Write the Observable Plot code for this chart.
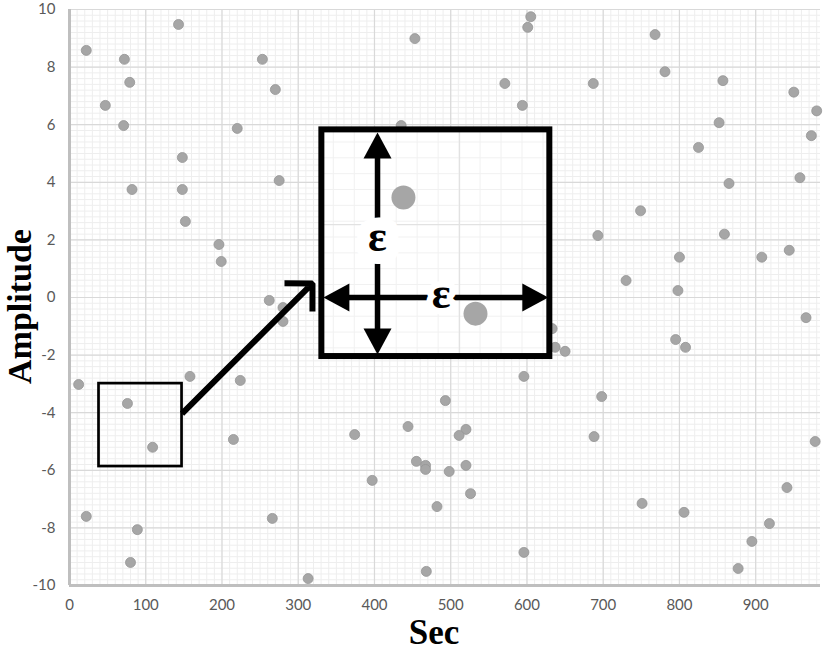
<!DOCTYPE html>
<html>
<head>
<meta charset="utf-8">
<script src="https://cdn.jsdelivr.net/npm/d3@7"></script>
<script src="https://cdn.jsdelivr.net/npm/@observablehq/plot@0.6"></script>
<style>
  html, body { margin: 0; padding: 0; background: #fff; }
  #chart { width: 825px; height: 651px; }
</style>
</head>
<body>
<div id="chart"></div>
<script>
// ---- data ----
const secs = [22, 72, 79, 47, 71, 143, 148, 148, 152, 82, 196, 199, 220, 253, 270, 275, 262, 280, 280,
  453, 605, 601, 571, 594, 687, 435, 693, 730, 633,
  768, 781, 857, 950, 980, 852, 973, 825, 865, 958, 749, 859, 800, 908, 944, 798, 966,
  12, 158, 224, 76, 109, 215, 22, 89, 266, 80, 313,
  637, 650, 596, 698, 493, 444, 374, 520, 511, 688, 455, 467, 467, 498, 520, 397, 526, 482, 596, 468,
  795, 808, 978, 941, 751, 806, 918, 895, 877];
const amps = [8.58, 8.27, 7.47, 6.67, 5.97, 9.48, 4.86, 3.75, 2.64, 3.75, 1.84, 1.25, 5.87, 8.27, 7.22, 4.06, -0.10, -0.35, -0.83,
  8.99, 9.75, 9.38, 7.43, 6.67, 7.43, 5.97, 2.15, 0.59, -1.08,
  9.13, 7.84, 7.53, 7.13, 6.48, 6.07, 5.62, 5.21, 3.96, 4.16, 3.01, 2.20, 1.40, 1.40, 1.64, 0.24, -0.70,
  -3.02, -2.74, -2.88, -3.68, -5.20, -4.93, -7.60, -8.06, -7.67, -9.20, -9.76,
  -1.73, -1.87, -2.74, -3.44, -3.58, -4.48, -4.76, -4.58, -4.79, -4.83, -5.69, -5.83, -5.97, -6.04, -5.83, -6.35, -6.81, -7.26, -8.85, -9.51,
  -1.46, -1.73, -5.00, -6.60, -7.15, -7.46, -7.85, -8.47, -9.41];

// magnified points shown inside the inset
const zoomSecs = [438, 532.5];
const zoomAmps = [3.47, -0.56];

// tick labels
const xTicks = [0, 100, 200, 300, 400, 500, 600, 700, 800, 900];
const yTicks = [-10, -8, -6, -4, -2, 0, 2, 4, 6, 8, 10];
const xLabel = "Sec";
const yLabel = "Amplitude";
const epsLabel = "ε";

// ---- annotation geometry (data coordinates) ----
const smallBox = {x1: 38.7, x2: 147.6, y1: -5.87, y2: -2.99};
const bigBox = {x1: 331, x2: 630, y1: -2.05, y2: 5.82};
const pointer = {x1: 147.6, y1: -4.03, x2: 318.7, y2: 0.49};
const vArrow = {x: 404, y1: -1.98, y2: 5.73};
const hArrow = {y: 0, x1: 333, x2: 628};

const points = secs.map((x, i) => ({x, y: amps[i]}));
const zoomPoints = zoomSecs.map((x, i) => ({x, y: zoomAmps[i]}));

const xMinor = d3.range(0, 990, 10);
const yMinor = d3.range(-10, 10.001, 0.2);
const insetGridX = d3.range(bigBox.x1 + 15, bigBox.x2, 27.5);
const insetGridY = d3.range(bigBox.y1 + 0.3, bigBox.y2, 0.55);

// filled triangle heads whose tip is the symbol origin
const L = 26, W = 14;
const headUp    = {draw(c) { c.moveTo(0, 0); c.lineTo(-W, L); c.lineTo(W, L); c.closePath(); }};
const headDown  = {draw(c) { c.moveTo(0, 0); c.lineTo(-W, -L); c.lineTo(W, -L); c.closePath(); }};
const headLeft  = {draw(c) { c.moveTo(0, 0); c.lineTo(L, -W); c.lineTo(L, W); c.closePath(); }};
const headRight = {draw(c) { c.moveTo(0, 0); c.lineTo(-L, -W); c.lineTo(-L, W); c.closePath(); }};

const serif = "'Liberation Serif', 'Times New Roman', serif";

const chart = Plot.plot({
  width: 825,
  height: 651,
  marginLeft: 69,
  marginRight: 5,
  marginTop: 9,
  marginBottom: 66,
  style: {fontFamily: "Lato, 'Open Sans', sans-serif", fontSize: "15px", color: "#595959", background: "#fff"},
  x: {domain: [0, 985]},
  y: {domain: [-10, 10]},
  marks: [
    // minor grid
    Plot.ruleX(xMinor, {stroke: "#eeeeee", strokeWidth: 1}),
    Plot.ruleY(yMinor, {stroke: "#eeeeee", strokeWidth: 1}),
    // major grid
    Plot.ruleX(xTicks, {stroke: "#d9d9d9", strokeWidth: 1.2}),
    Plot.ruleY(yTicks, {stroke: "#d9d9d9", strokeWidth: 1.2}),
    // axis lines
    Plot.ruleX([0], {stroke: "#bfbfbf", strokeWidth: 3}),
    Plot.ruleY([-10], {stroke: "#bfbfbf", strokeWidth: 3}),
    Plot.axisX(xTicks, {tickSize: 0, tickPadding: 14, tickFormat: d => String(d), label: null, fill: "#595959"}),
    Plot.axisY(yTicks, {tickSize: 0, tickPadding: 14, tickFormat: d => String(d), label: null, fill: "#595959"}),
    // data points
    Plot.dot(points, {x: "x", y: "y", r: 5, fill: "#a6a6a6", stroke: "#969696", strokeWidth: 0.8}),
    // small selection box
    Plot.rect([smallBox], {x1: "x1", x2: "x2", y1: "y1", y2: "y2", fill: "none", stroke: "black", strokeWidth: 2.7}),
    // pointer arrow
    Plot.arrow([pointer], {x1: "x1", y1: "y1", x2: "x2", y2: "y2", stroke: "black", strokeWidth: 6,
      headAngle: 90, headLength: 7, strokeLinejoin: "miter", strokeLinecap: "butt"}),
    // inset
    Plot.rect([bigBox], {x1: "x1", x2: "x2", y1: "y1", y2: "y2", fill: "white"}),
    Plot.ruleX(insetGridX, {y1: bigBox.y1, y2: bigBox.y2, stroke: "#f1f1f1", strokeWidth: 1}),
    Plot.ruleY(insetGridY, {x1: bigBox.x1, x2: bigBox.x2, stroke: "#f1f1f1", strokeWidth: 1}),
    Plot.ruleX([511.5], {y1: bigBox.y1, y2: bigBox.y2, stroke: "#e2e2e2", strokeWidth: 1.3}),
    Plot.ruleY([2.53], {x1: bigBox.x1, x2: bigBox.x2, stroke: "#e2e2e2", strokeWidth: 1.3}),
    // epsilon arrows
    Plot.ruleX([vArrow], {x: "x", y1: d => d.y1 + 0.5, y2: d => d.y2 - 0.5, stroke: "black", strokeWidth: 5.5}),
    Plot.ruleY([hArrow], {y: "y", x1: d => d.x1 + 15, x2: d => d.x2 - 15, stroke: "black", strokeWidth: 5.5}),
    Plot.dot([vArrow], {x: "x", y: "y2", symbol: headUp, fill: "black", stroke: "none"}),
    Plot.dot([vArrow], {x: "x", y: "y1", symbol: headDown, fill: "black", stroke: "none"}),
    Plot.dot([hArrow], {x: "x1", y: "y", symbol: headLeft, fill: "black", stroke: "none"}),
    Plot.dot([hArrow], {x: "x2", y: "y", symbol: headRight, fill: "black", stroke: "none"}),
    Plot.text([epsLabel], {x: vArrow.x, y: 2.12, text: d => d, fontSize: 44, fontWeight: "bold",
      fontFamily: serif, fill: "black", textAnchor: "middle", lineAnchor: "middle",
      stroke: "white", strokeWidth: 26, paintOrder: "stroke"}),
    Plot.text([epsLabel], {x: 487.5, y: 0.14, text: d => d, fontSize: 44, fontWeight: "bold",
      fontFamily: serif, fill: "black", textAnchor: "middle", lineAnchor: "middle",
      stroke: "white", strokeWidth: 13, paintOrder: "stroke"}),
    Plot.dot(zoomPoints, {x: "x", y: "y", r: 12, fill: "#a6a6a6", stroke: "none"}),
    Plot.rect([bigBox], {x1: "x1", x2: "x2", y1: "y1", y2: "y2", fill: "none", stroke: "black", strokeWidth: 6}),
    // axis titles
    Plot.text([xLabel], {frameAnchor: "bottom", textAnchor: "middle", lineAnchor: "bottom", dx: -11, dy: 58,
      text: d => d, fontSize: 35, fontWeight: "bold", fontFamily: serif, fill: "black"}),
    Plot.text([yLabel], {frameAnchor: "left", textAnchor: "middle", lineAnchor: "middle", dx: -49, dy: 9, rotate: -90,
      text: d => d, fontSize: 34, fontWeight: "bold", fontFamily: serif, fill: "black"})
  ]
});
document.getElementById("chart").appendChild(chart);
</script>
</body>
</html>
